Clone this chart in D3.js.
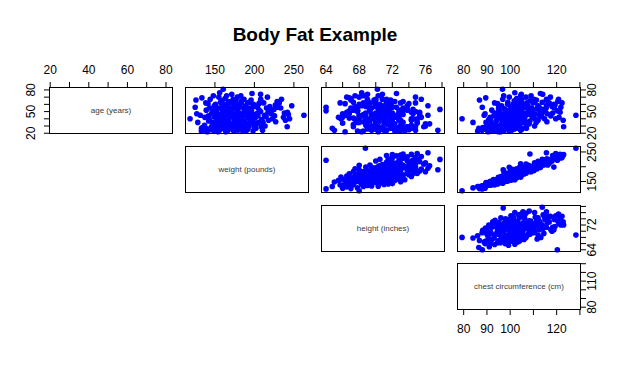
<!DOCTYPE html>
<html><head><meta charset="utf-8">
<script src="https://cdn.jsdelivr.net/npm/d3@7"></script>
<style>body{margin:0;background:#fff}svg{display:block}</style>
</head><body>
<svg id="c" width="629" height="365"></svg>
<script>
// ---- data ----
const age = [
40,56,47,66,35,27,24,
69,23,24,42,28,52,31,45,62,26,
22,37,55,25,48,61,33,43,29,58,39,51,24,67,35,72,44,30,
23,22,46,54,38,27,63,41,49,33,57,26,44,70,36,52,29,60,47,31,42,65,24,39,55,34,50,76,
81,26,45,58,33,24,51,39,62,28,47,55,35,43,68,30,53,41,64,22,49,37,57,27,72,44,32,60,40,52,
26,54,42,35,61,29,47,38,57,23,66,44,51,32,59,40,27,48,63,36,53,45,70,30,55,41,24,67,34,50,46,74,
26,24,26,43,55,37,62,31,48,52,28,46,58,39,65,34,44,72,29,56,41,50,36,60,23,47,53,33,67,40,24,
25,23,44,55,38,63,29,48,52,35,60,42,57,31,66,46,27,51,75,40,54,34,45,62,37,
24,42,56,35,63,47,29,52,39,58,44,67,33,50,41,61,27,74,
45,55,38,62,49,30,57,43,70,35,52,
53,47,59,40,64,36,51,56,44,
55,42,62,48,67,38,
49,29,58,40,46,
45];
const weight = [
118.5,125.0,127.0,126.0,128.3,133.0,148.5,
133.5,132.8,135.0,137.2,134.3,139.0,136.8,131.5,138.5,139.8,
140.3,142.0,143.5,144.8,146.0,141.3,147.3,148.8,145.5,149.3,142.8,147.8,149.0,144.0,146.5,148.0,141.8,149.8,
154.3,154.0,151.5,152.8,155.5,156.3,157.0,158.5,150.5,153.3,159.3,151.0,156.8,155.0,158.0,159.8,152.3,150.8,157.8,159.0,153.8,158.8,155.8,151.8,154.8,157.3,152.0,156.0,
160.5,161.8,163.0,164.5,162.3,166.8,165.3,167.8,168.5,169.3,161.0,166.0,168.0,164.0,162.8,165.8,169.8,160.8,167.3,163.8,168.8,161.5,166.5,167.0,164.8,169.0,163.3,161.3,165.0,168.3,
176.0,171.5,173.3,174.8,177.3,178.0,172.0,179.3,175.5,173.8,176.8,170.5,178.8,171.0,174.0,177.8,172.8,179.8,171.8,175.0,177.0,170.3,178.3,174.3,172.5,176.3,179.0,173.0,177.5,170.8,175.8,171.3,
184.8,184.3,181.0,182.5,186.3,188.0,183.3,189.5,180.5,187.3,182.0,185.8,188.8,181.8,184.0,187.0,189.0,182.8,186.0,180.8,183.8,188.3,185.3,181.3,188.5,184.5,189.8,183.0,186.8,180.0,189.8,
191.0,198.3,192.5,195.0,197.3,193.8,199.5,190.8,196.3,194.0,198.8,191.8,199.0,193.3,195.8,197.8,192.0,190.3,197.0,195.3,192.8,199.3,194.5,191.3,196.8,
210.3,201.3,203.8,205.0,207.3,202.5,208.8,206.0,209.3,200.8,204.5,208.0,203.0,207.8,200.3,205.8,202.0,207.8,
212.8,215.3,218.0,211.8,217.3,213.5,219.5,214.8,216.5,211.0,219.0,
224.8,221.3,226.5,223.0,228.8,227.0,222.0,229.5,225.5,
233.3,236.8,231.5,238.0,234.3,239.3,
241.8,241.5,247.3,244.5,243.0,
262.75];
const height = [
68.0,64.0,66.0,67.0,67.8,64.75,65.0,
66.8,68.5,69.5,66.0,70.3,67.3,69.0,66.5,65.7,71.0,
68.3,69.3,67.0,70.5,68.8,66.3,71.3,69.8,67.3,68.0,72.0,66.8,73.0,69.0,70.0,67.5,71.5,69.5,
67.8,66.3,68.5,70.3,69.0,71.8,67.3,70.5,66.8,72.3,69.3,69.8,68.3,66.5,71.0,67.8,70.8,68.0,72.8,68.8,65.5,70.0,73.5,67.5,69.5,66.0,71.5,68.3,
70.2,69.0,70.8,68.3,72.0,71.3,67.8,70.0,69.3,73.3,66.8,71.8,68.0,72.8,67.0,69.8,70.8,68.8,72.3,70.3,66.5,71.5,69.0,74.3,68.5,69.5,67.3,70.0,65.8,73.0,
72.5,69.3,71.0,70.3,68.8,73.8,70.0,71.8,67.5,72.3,69.8,68.3,72.8,71.5,70.5,69.0,74.0,70.3,71.3,68.5,74.5,72.0,68.0,69.5,73.3,66.8,71.0,70.8,75.0,67.8,71.8,69.0,
72.3,71.3,69.8,70.5,71.8,73.0,68.5,74.3,70.0,69.3,72.8,75.3,70.8,71.0,69.0,72.0,68.0,70.3,73.8,72.5,67.3,74.8,70.3,71.5,72.8,68.8,71.3,76.0,70.0,69.5,77.5,
74.0,73.5,71.5,70.3,72.8,69.8,74.8,72.0,73.3,71.0,70.5,75.5,68.8,73.0,71.8,69.5,72.3,70.8,72.5,74.3,67.5,72.0,76.3,71.3,70.0,
74.8,71.8,70.5,73.3,72.0,74.5,75.8,69.3,72.8,73.8,68.0,71.3,76.5,73.0,70.3,74.0,72.3,70.8,
72.5,71.3,74.3,73.0,75.3,76.0,70.0,72.0,74.8,71.8,73.8,
77.75,72.8,71.5,74.5,73.3,75.0,64.0,72.0,70.5,
73.8,72.5,74.8,71.3,75.5,73.0,
74.3,72.0,76.3,75.0,73.3,
68.75];
const chest = [
79.3,88.0,89.2,86.8,84.0,86.5,91.0,
89.5,86.0,87.9,91.4,88.2,92.1,90.0,88.8,93.3,89.4,
90.5,91.8,95.0,89.9,93.2,94.6,92.0,94.4,91.0,96.3,90.8,95.5,92.5,96.8,89.6,97.2,93.0,95.8,
93.1,95.8,96.0,97.5,94.2,92.8,99.0,95.6,97.8,93.9,100.2,91.5,98.4,99.6,96.7,101.0,94.7,98.9,95.2,97.0,99.3,101.8,93.5,96.4,100.5,97.8,95.0,102.0,
96.7,95.0,99.3,102.4,96.3,97.0,101.5,99.8,103.6,98.2,100.7,101.0,100.1,97.6,102.8,96.8,104.0,98.5,101.9,94.9,103.2,97.9,102.6,96.0,104.5,100.9,99.0,101.3,102.0,99.5,
99.6,103.8,101.2,100.0,105.2,98.8,102.7,101.8,106.0,97.3,104.6,101.5,103.3,99.2,104.2,102.3,98.0,105.6,103.0,102.9,101.4,100.4,106.8,100.6,102.1,104.0,99.9,105.0,100.3,103.5,101.0,104.8,
101.8,97.3,105.1,103.0,106.4,102.5,107.2,103.9,104.6,108.0,100.8,103.6,107.6,102.2,108.5,104.3,106.0,109.0,101.3,105.3,105.9,104.8,103.3,106.7,100.2,107.0,109.6,102.0,110.2,104.0,97.0,
100.9,99.6,106.5,109.3,105.8,110.5,104.2,107.8,108.8,105.2,118.8,104.7,112.0,103.1,111.3,110.0,102.6,108.0,113.0,106.2,111.6,107.0,105.5,109.8,108.5,
104.5,109.5,112.5,107.8,113.8,110.8,106.8,114.5,111.0,112.0,113.2,115.6,108.2,112.8,110.3,116.2,107.0,114.0,
112.6,115.5,112.0,116.8,114.2,110.5,118.0,113.6,117.3,111.2,115.0,
113.8,116.0,119.3,114.8,120.5,115.8,120.3,121.8,117.5,
119.0,121.0,122.3,118.3,120.8,122.8,
121.5,123.0,115.6,119.6,108.5,
128.3];

const varNames = ["age (years)", "weight (pounds)", "height (inches)", "chest circumference (cm)"];
const tickValues = [[20,30,40,50,60,70,80],[150,200,250],[64,66,68,70,72,74,76,78],[80,90,100,110,120,130]];
const topLabels = [[20,40,60,80],[150,200,250],[64,68,72,76],[80,90,100,120]];
const rightLabels = [[20,50,80],[150,250],[64,72],[80,110]];
const leftLabels = [20,50,80];
const bottomLabels = [80,90,100,120];
const title = "Body Fat Example";

// ---- layout ----
const svg = d3.select("#c");
const FONT = "'Liberation Sans', Arial, Helvetica, sans-serif";
const vars = [age, weight, height, chest];
const N = d3.min(vars, v => v.length);
const W = 123, H = 46;
const colX = i => Math.round(49 + i * 136) + 0.5;
const rowY = j => Math.round(87.3 + j * 58.65) + 0.5;

const ext = vars.map(v => { const [a, b] = d3.extent(v.slice(0, N)); const p = (b - a) * 0.04; return [a - p, b + p]; });
const xs = ext.map((e, i) => d3.scaleLinear().domain(e).range([colX(i), colX(i) + W]));
const ys = ext.map((e, i) => d3.scaleLinear().domain(e).range([rowY(i) + H, rowY(i)]));

svg.append("text").attr("x", 315).attr("y", 41).attr("text-anchor", "middle")
  .attr("font-family", FONT).attr("font-weight", "bold").attr("font-size", 19).attr("fill", "#000").text(title);

const idx = d3.range(N);
for (let r = 0; r < 4; r++) {
  for (let c = r; c < 4; c++) {
    const g = svg.append("g");
    if (r === c) {
      g.append("text").attr("x", colX(c) + W / 2).attr("y", rowY(r) + H / 2)
        .attr("dy", "0.35em").attr("text-anchor", "middle")
        .attr("font-family", FONT).attr("font-size", 8).attr("fill", "#3a3a3a").text(varNames[c]);
    } else {
      g.selectAll("circle").data(idx).join("circle")
        .attr("cx", k => xs[c](vars[c][k]))
        .attr("cy", k => ys[r](vars[r][k]))
        .attr("r", 2.8).attr("fill", "#0000FF");
    }
    g.append("rect").attr("x", colX(c)).attr("y", rowY(r)).attr("width", W).attr("height", H)
      .attr("fill", "none").attr("stroke", "#000").attr("stroke-width", 1);
  }
}

function styleAxis(g) {
  g.select(".domain").remove();
  g.attr("font-family", FONT).attr("font-size", 12).attr("color", "#000");
  g.selectAll(".tick text").attr("fill", "#000");
}

// top axes
for (let c = 0; c < 4; c++) {
  const g = svg.append("g").attr("transform", `translate(0,${rowY(0)})`)
    .call(d3.axisTop(xs[c]).tickValues(tickValues[c]).tickSize(5.5).tickPadding(8).offset(0)
      .tickFormat(d => topLabels[c].includes(d) ? d : ""));
  styleAxis(g);
}
// left axis (row 0)
{
  const g = svg.append("g").attr("transform", `translate(${colX(0)},0)`)
    .call(d3.axisLeft(ys[0]).tickValues(tickValues[0]).tickSize(5.5).offset(0)
      .tickFormat(d => leftLabels.includes(d) ? d : ""));
  styleAxis(g);
  g.selectAll(".tick text").attr("x", 0).attr("dy", 0).attr("text-anchor", "middle")
    .attr("transform", "translate(-15,0) rotate(-90)");
}
// right axes
for (let r = 0; r < 4; r++) {
  const g = svg.append("g").attr("transform", `translate(${colX(3) + W},0)`)
    .call(d3.axisRight(ys[r]).tickValues(tickValues[r]).tickSize(5.5).offset(0)
      .tickFormat(d => rightLabels[r].includes(d) ? d : ""));
  styleAxis(g);
  g.selectAll(".tick text").attr("x", 0).attr("dy", 0).attr("text-anchor", "middle")
    .attr("transform", "translate(15.5,0) rotate(-90)");
}
// bottom axis (col 3)
{
  const g = svg.append("g").attr("transform", `translate(0,${rowY(3) + H})`)
    .call(d3.axisBottom(xs[3]).tickValues(tickValues[3]).tickSize(5.5).offset(0)
      .tickFormat(d => bottomLabels.includes(d) ? d : ""));
  styleAxis(g);
  g.selectAll(".tick text").attr("y", 23.5).attr("dy", 0);
}
</script>
</body></html>
